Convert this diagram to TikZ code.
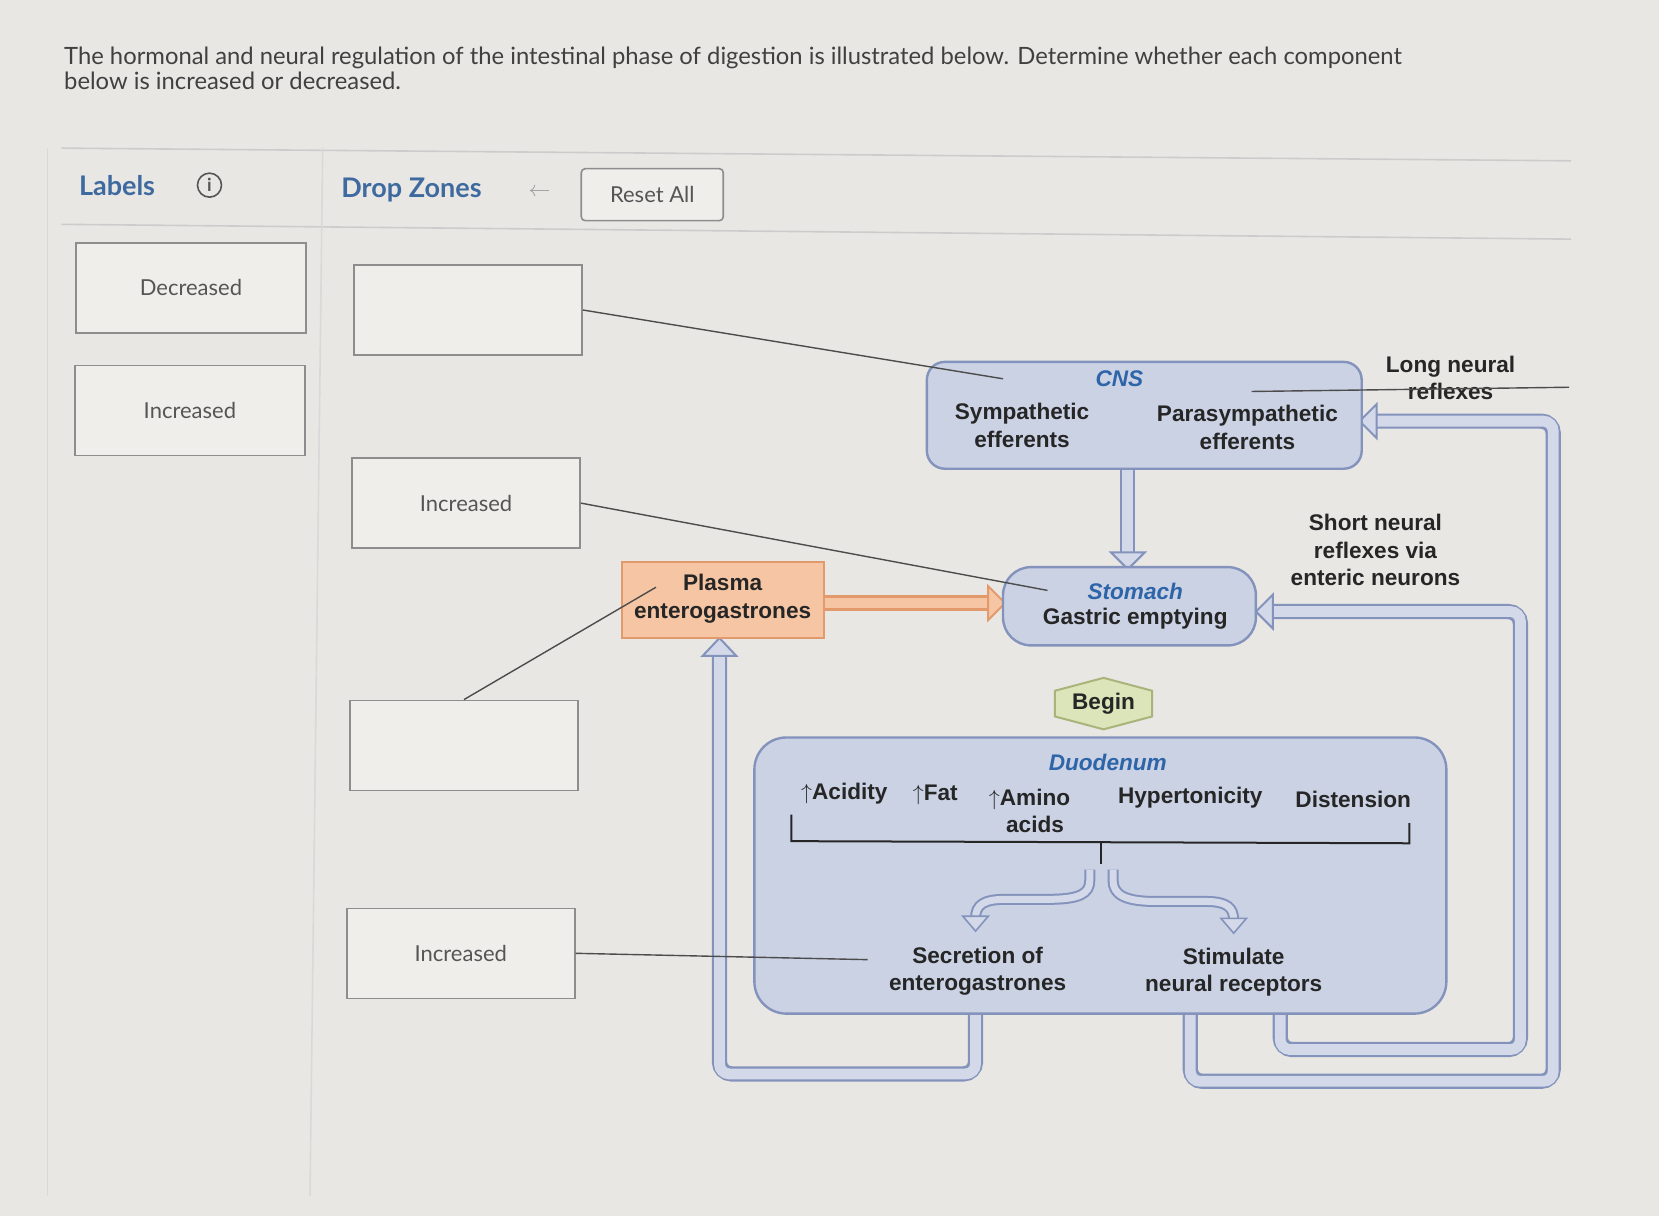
\documentclass[tikz,border=0pt]{standalone}
\usepackage{fontspec}
\setmainfont{Liberation Sans}
\newfontfamily\ui{Lato}
\usetikzlibrary{fit,shapes.geometric}
\definecolor{bg}{HTML}{E9E7E3}
\definecolor{boxF}{HTML}{CAD2E4}
\definecolor{boxB}{HTML}{8493BC}
\definecolor{pipeF}{HTML}{D3D9E8}
\definecolor{oraF}{HTML}{F6C6A4}
\definecolor{oraB}{HTML}{E29A6C}
\definecolor{beg}{HTML}{DCE4BA}
\definecolor{begB}{HTML}{A9B47A}
\definecolor{ttl}{HTML}{2E64A8}
\definecolor{uitx}{HTML}{555555}
\definecolor{card}{HTML}{707070}
\tikzset{
 x=0.529pt,y=-0.529pt,
 box/.style={draw=boxB,fill=boxF,line width=1.2pt,rounded corners=9pt,inner sep=0pt},
 dz/.style={draw=card!80,fill=bg!70!white,line width=0.8pt,inner sep=0pt},
 dtxt/.style={font=\fontsize{11.3}{13.8}\selectfont\bfseries,align=center,text=black!85},
 ttxt/.style={font=\fontsize{11.3}{13.5}\selectfont\bfseries\itshape,text=ttl},
 uit/.style={font=\ui\fontsize{11}{13}\selectfont,text=uitx},
 lead/.style={draw=black!70,line width=0.7pt},
 pipeout/.style={line width=7.6pt,draw=boxB,rounded corners=6pt},
 pipein/.style={line width=5.4pt,draw=pipeF,rounded corners=5pt},
 thinout/.style={line width=5.5pt,draw=boxB},
 thinin/.style={line width=3.5pt,draw=pipeF},
 head/.style={draw=boxB,fill=pipeF,line width=1pt,line join=miter},
}
\newcommand\mypipe[1]{\draw[pipeout] #1; \draw[pipein] #1;}
\newcommand\mythin[1]{\draw[thinout] #1; \draw[thinin] #1;}
\begin{document}
\begin{tikzpicture}
\fill[bg] (0,0) rectangle (1568,1149);
\useasboundingbox (0,0) rectangle (1568,1149);
% header
\node[uit,anchor=north west,align=left,font=\ui\fontsize{11.9}{12.5}\selectfont,text=black!75] (hdr) at (54,38)
 {The hormonal and neural regulation of the intestinal phase of digestion is illustrated below. Determine whether each component\\below is increased or decreased.};
% panel lines
\draw[black!20,line width=0.8pt] (58,140) -- (1485,152);
\draw[black!20,line width=0.8pt] (58,212) -- (1485,226);
\draw[black!15,line width=0.8pt] (45,140) -- (45,1130);
\draw[black!15,line width=0.8pt] (305,140) -- (293,1130);
\node[uit,font=\ui\fontsize{13.5}{15}\selectfont\bfseries,text=ttl!80!gray,anchor=west] (lab) at (68,175) {Labels};
\node[draw=uitx,circle,line width=0.8pt,minimum size=12pt,inner sep=0pt,font=\ui\fontsize{9}{9}\selectfont\bfseries,text=uitx] (info) at (198,175) {i};
\node[uit,font=\ui\fontsize{13.5}{15}\selectfont\bfseries,text=ttl!80!gray,anchor=west] (dzt) at (316,180) {Drop Zones};
\node[uit,text=black!40] (undo) at (510,182) {$\leftarrow$};
\node[dz,minimum width=71pt,minimum height=26pt,rounded corners=2pt,uit] (reset) at (616.5,184) {Reset All};
% label cards
\node[dz,minimum width=115pt,minimum height=45pt,uit] (cdec) at (180.5,272) {Decreased};
\node[dz,minimum width=115pt,minimum height=45pt,uit] (cinc) at (179.5,388) {Increased};
% drop zones
\node[dz,minimum width=114pt,minimum height=45pt,uit] (z1) at (442.5,293) {};
\node[dz,minimum width=114pt,minimum height=45pt,uit] (z2) at (440.5,475.5) {Increased};
\node[dz,minimum width=114pt,minimum height=45pt,uit] (z3) at (438.5,704.5) {};
\node[dz,minimum width=114pt,minimum height=45pt,uit] (z4) at (435.5,901) {Increased};
% pipes
\mypipe{(922,955) -- (922,1015) -- (680,1015) -- (680,618)}
\draw[head] (680,603) -- (696,620) -- (664,620) -- cycle;
\mypipe{(1125,955) -- (1125,1022) -- (1468,1022) -- (1468,398) -- (1300,398)}
\draw[head] (1285,398) -- (1301,382) -- (1301,414) -- cycle;
\mypipe{(1210,955) -- (1210,992) -- (1437,992) -- (1437,578) -- (1202,578)}
\draw[head] (1187,578) -- (1203,562) -- (1203,594) -- cycle;
\mypipe{(1066,440) -- (1066,522)}
\draw[head] (1066,538) -- (1082,522) -- (1050,522) -- cycle;
% orange arrow
\draw[line width=8pt,draw=oraB] (776,570) -- (936,570);
\draw[line width=5.2pt,draw=oraF] (774,570) -- (937,570);
\draw[draw=oraB,fill=oraF,line width=1pt] (950,570) -- (934,554) -- (934,586) -- cycle;
% boxes
\node[box,fit={(876,342)(1287,443)}] (cns) {};
\node[ttxt] (cnst) at (1058,358) {CNS};
\node[dtxt] (symp) at (966,402) {Sympathetic\\efferents};
\node[dtxt] (para) at (1179,404) {Parasympathetic\\efferents};
\node[box,fit={(948,536)(1187,610)},rounded corners=14pt] (sto) {};
\node[ttxt] (stot) at (1073,559) {Stomach};
\node[dtxt] (gast) at (1073,585) {Gastric emptying};
\node[draw=oraB,fill=oraF,line width=1pt,inner sep=0pt,fit={(588,531)(779,603)}] (pla) {};
\node[dtxt] (plat) at (683,566) {Plasma\\enterogastrones};
\node[dtxt] (lnr) at (1371,357) {Long neural\\reflexes};
\node[dtxt] (snr) at (1300,520) {Short neural\\reflexes via\\enteric neurons};
\node[draw=begB,fill=beg,line width=1pt,regular polygon,regular polygon sides=6,shape border rotate=90,inner sep=0pt,xscale=1.7,yscale=0.78,minimum size=33pt] (begin) at (1043,665) {};
\node[dtxt] (begt) at (1043,665) {Begin};
% duodenum
\node[box,fit={(713,697)(1367,958)},rounded corners=16pt] (duo) {};
\node[ttxt] (duot) at (1047,721) {Duodenum};
\node[dtxt] (acid) at (798,750) {$\uparrow$Acidity};
\node[dtxt] (fat) at (884,751) {$\uparrow$Fat};
\node[dtxt,anchor=north west] (amino) at (928,739) {$\uparrow$Amino\\\phantom{$\uparrow$}acids};
\node[dtxt] (hyp) at (1125,754) {Hypertonicity};
\node[dtxt] (dist) at (1279,756) {Distension};
\draw[black!85,line width=1pt] (748,770) -- (748,795) -- (1332,797) -- (1332,778);
\draw[black!85,line width=1pt] (1041,796) -- (1041,817);
\mythin{(1030,822) -- (1030,832) .. controls (1030,845) and (1020,850) .. (990,850) -- (950,850) .. controls (930,850) and (922,855) .. (922,868)}
\draw[head,line width=0.8pt] (922,880) -- (910,866) -- (934,866) -- cycle;
\mythin{(1052,822) -- (1052,832) .. controls (1052,845) and (1062,852) .. (1092,852) -- (1140,852) .. controls (1160,852) and (1166,858) .. (1166,870)}
\draw[head,line width=0.8pt] (1166,882) -- (1154,868) -- (1178,868) -- cycle;
\node[dtxt] (sec) at (924,918) {Secretion of\\enterogastrones};
\node[dtxt] (stim) at (1166,919) {Stimulate\\neural receptors};
% leader lines
\coordinate (l1) at (948,358);
\coordinate (l2) at (990,558);
\coordinate (l3) at (620,555);
\coordinate (l4) at (820,907);
\coordinate (l5a) at (1183,370);
\coordinate (l5b) at (1483,366);
\draw[lead] (z1.east) -- (l1);
\draw[lead] (z2.east) -- (l2);
\draw[lead] (z3.north) -- (l3);
\draw[lead] (z4.east) -- (l4);
\draw[lead] (l5a) -- (l5b);
\end{tikzpicture}
\end{document}
